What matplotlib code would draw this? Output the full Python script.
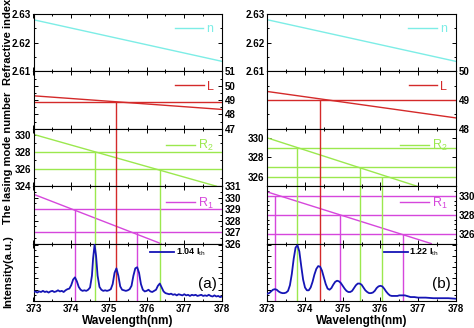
import numpy as np
import matplotlib
matplotlib.use('Agg')
import matplotlib.pyplot as plt
from matplotlib.ticker import MultipleLocator, NullFormatter, FixedLocator

plt.rcParams['font.family'] = ['Liberation Sans', 'DejaVu Sans']
plt.rcParams['mathtext.fontset'] = 'custom'
plt.rcParams['mathtext.rm'] = 'Liberation Sans'
plt.rcParams['mathtext.it'] = 'Liberation Sans:italic'
plt.rcParams['mathtext.bf'] = 'Liberation Sans:bold'

# ---------------- data ----------------
wl_ends = [373.0, 378.0]
xticks = [373, 374, 375, 376, 377, 378]

# refractive index n
n_a = [2.628, 2.6135]
n_b = [2.628, 2.6135]

# panel (a)
L_wl_a = [373.0, 378.0]
L_a = [49.3, 48.35]
L_mode_a = [48.88]
L_peak_a = [375.2]

R2_wl_a = [373.0, 377.85]
R2_a = [330.05, 324.0]
R2_modes_a = [328, 326]
R2_peaks_a = [374.64, 376.35]

R1_wl_a = [373.0, 376.38]
R1_a = [330.3, 326.0]
R1_modes_a = [329, 327]
R1_peaks_a = [374.1, 375.75]

spec_wl_a = [373.00, 373.05, 373.10, 373.15, 373.20, 373.25, 373.30, 373.35, 373.40, 373.45,
             373.50, 373.55, 373.60, 373.65, 373.70, 373.75, 373.80, 373.85, 373.90, 373.95,
             374.00, 374.05, 374.10, 374.15, 374.20, 374.25, 374.30, 374.35, 374.40, 374.45,
             374.50, 374.55, 374.58, 374.62, 374.66, 374.70, 374.75, 374.80, 374.85, 374.90,
             374.95, 375.00, 375.05, 375.10, 375.15, 375.20, 375.25, 375.30, 375.35, 375.40,
             375.45, 375.50, 375.55, 375.60, 375.65, 375.70, 375.75, 375.80, 375.85, 375.90,
             375.95, 376.00, 376.05, 376.10, 376.15, 376.20, 376.25, 376.30, 376.35, 376.40,
             376.45, 376.50, 376.55, 376.60, 376.65, 376.70, 376.75, 376.80, 376.85, 376.90,
             376.95, 377.00, 377.05, 377.10, 377.15, 377.20, 377.25, 377.30, 377.35, 377.40,
             377.45, 377.50, 377.55, 377.60, 377.65, 377.70, 377.75, 377.80, 377.85, 377.90,
             377.95, 378.00]
spec_a = [0.16, 0.17, 0.15, 0.17, 0.16, 0.18, 0.16, 0.17, 0.15, 0.17,
          0.18, 0.16, 0.17, 0.19, 0.17, 0.18, 0.16, 0.19, 0.21, 0.22,
          0.28, 0.38, 0.42, 0.35, 0.25, 0.20, 0.18, 0.19, 0.18, 0.20,
          0.24, 0.45, 0.75, 1.00, 0.80, 0.45, 0.25, 0.20, 0.18, 0.19,
          0.18, 0.19, 0.21, 0.30, 0.50, 0.58, 0.45, 0.26, 0.20, 0.19,
          0.18, 0.19, 0.21, 0.27, 0.45, 0.58, 0.60, 0.50, 0.30, 0.20,
          0.17, 0.18, 0.20, 0.17, 0.16, 0.18, 0.20, 0.27, 0.31, 0.24,
          0.17, 0.14, 0.13, 0.12, 0.13, 0.11, 0.12, 0.10, 0.12, 0.11,
          0.10, 0.12, 0.10, 0.11, 0.09, 0.11, 0.10, 0.11, 0.09, 0.10,
          0.11, 0.09, 0.10, 0.09, 0.11, 0.09, 0.08, 0.10, 0.08, 0.09,
          0.07, 0.08]

# panel (b)
L_wl_b = [373.0, 378.0]
L_b = [49.3, 48.38]
L_mode_b = [49]
L_peak_b = [374.4]

R2_wl_b = [373.0, 376.97]
R2_b = [330.05, 325.0]
R2_modes_b = [329, 327, 326]
R2_peaks_b = [373.8, 375.45, 376.05]

R1_wl_b = [373.0, 377.35]
R1_b = [330.4, 325.0]
R1_modes_b = [330, 328, 326]
R1_peaks_b = [373.2, 374.92, 376.6]

spec_wl_b = [373.00, 373.05, 373.10, 373.15, 373.20, 373.25, 373.30, 373.35, 373.40, 373.45,
             373.50, 373.55, 373.60, 373.65, 373.70, 373.75, 373.80, 373.85, 373.90, 373.95,
             374.00, 374.05, 374.10, 374.15, 374.20, 374.25, 374.30, 374.35, 374.40, 374.45,
             374.50, 374.55, 374.60, 374.65, 374.70, 374.75, 374.80, 374.85, 374.90, 374.95,
             375.00, 375.05, 375.10, 375.15, 375.20, 375.25, 375.30, 375.35, 375.40, 375.45,
             375.50, 375.55, 375.60, 375.65, 375.70, 375.75, 375.80, 375.85, 375.90, 375.95,
             376.00, 376.05, 376.10, 376.15, 376.20, 376.25, 376.30, 376.35, 376.40, 376.45,
             376.50, 376.55, 376.60, 376.65, 376.70, 376.75, 376.80, 376.90, 377.00, 377.20,
             377.40, 377.60, 377.80, 378.00]
spec_b = [0.13, 0.14, 0.17, 0.20, 0.21, 0.20, 0.17, 0.15, 0.14, 0.14,
          0.15, 0.18, 0.28, 0.48, 0.75, 0.95, 0.99, 0.88, 0.62, 0.38,
          0.24, 0.19, 0.19, 0.24, 0.34, 0.47, 0.57, 0.62, 0.61, 0.54,
          0.42, 0.30, 0.22, 0.20, 0.23, 0.29, 0.34, 0.36, 0.35, 0.32,
          0.27, 0.22, 0.18, 0.16, 0.16, 0.18, 0.23, 0.28, 0.31, 0.31,
          0.29, 0.24, 0.19, 0.16, 0.14, 0.14, 0.15, 0.18, 0.23, 0.26,
          0.27, 0.26, 0.22, 0.17, 0.13, 0.10, 0.09, 0.09, 0.09, 0.09,
          0.10, 0.10, 0.10, 0.10, 0.09, 0.08, 0.07, 0.07, 0.06, 0.06,
          0.05, 0.05, 0.05, 0.04]

# ---------------- style ----------------
C_N = '#7DEDE6'
C_L = '#D42A2A'
C_R2 = '#9BE84E'
C_R1 = '#D647DC'
C_SP = '#1515B5'
LW = 1.0

fig = plt.figure(figsize=(4.74, 3.28), dpi=100)

BOT = 1 - 301 / 328
TOP = 1 - 14 / 328
H = (TOP - BOT) / 5


def style_ax(ax, ymaj, ymin_, show_left, show_right, show_x):
    ax.set_xlim(wl_ends)
    ax.xaxis.set_major_locator(FixedLocator(xticks))
    ax.xaxis.set_minor_locator(MultipleLocator(0.5))
    ax.yaxis.set_major_locator(MultipleLocator(ymaj))
    ax.yaxis.set_minor_locator(MultipleLocator(ymin_))
    ax.tick_params(which='both', direction='in', top=True, bottom=True,
                   left=True, right=True, labelsize=7, width=0.7,
                   labelleft=show_left, labelright=show_right,
                   labelbottom=show_x, pad=2)
    ax.tick_params(which='major', length=3)
    ax.tick_params(which='minor', length=1.6)
    for s in ax.spines.values():
        s.set_linewidth(0.8)
    for lab in ax.get_yticklabels() + ax.get_xticklabels():
        lab.set_fontweight('bold')


def leg(ax, label, color, y=0.97):
    lg = ax.legend(loc='upper right', bbox_to_anchor=(0.995, y), frameon=False,
                   fontsize=9, handlelength=2.3, handletextpad=0.25,
                   borderaxespad=0.2, labelcolor=color)
    return lg


def draw_panel(left, width, n_vals, Ld, R2d, R1d, spec, tag, ilabel, cfg):
    axs = [fig.add_axes([left, BOT + (4 - i) * H, width, H]) for i in range(5)]
    axn, axL, axR2, axR1, axI = axs

    # n
    axn.plot(wl_ends, n_vals, color=C_N, lw=LW, label='n')
    axn.set_ylim(2.61, 2.63)
    style_ax(axn, 0.01, 0.005, True, False, False)
    axn.yaxis.set_major_formatter(matplotlib.ticker.FormatStrFormatter('%.2f'))
    for lab in axn.get_yticklabels():
        lab.set_fontweight('bold')
    leg(axn, 'n', C_N)

    # L
    wl, vals, modes, peaks = Ld
    axL.plot(wl, vals, color=C_L, lw=LW, label='L')
    for m in modes:
        axL.axhline(m, color=C_L, lw=LW)
    axL.set_ylim(*cfg['L_lim'])
    for p, m in zip(peaks, modes):
        axL.vlines(p, cfg['L_lim'][0], m, color=C_L, lw=LW)
    style_ax(axL, cfg['L_maj'], cfg['L_min'], False, True, False)
    leg(axL, 'L', C_L)

    # R2
    wl, vals, modes, peaks = R2d
    axR2.plot(wl, vals, color=C_R2, lw=LW, label='R$_2$')
    for m in modes:
        axR2.axhline(m, color=C_R2, lw=LW)
    axR2.set_ylim(*cfg['R2_lim'])
    for p, m in zip(peaks, modes):
        axR2.vlines(p, cfg['R2_lim'][0], m, color=C_R2, lw=LW)
    for p in Ld[3]:
        axR2.axvline(p, color=C_L, lw=LW)
    style_ax(axR2, 2, 1, True, False, False)
    leg(axR2, 'R2', C_R2)

    # R1
    wl, vals, modes, peaks = R1d
    axR1.plot(wl, vals, color=C_R1, lw=LW, label='R$_1$')
    for m in modes:
        axR1.axhline(m, color=C_R1, lw=LW)
    axR1.set_ylim(*cfg['R1_lim'])
    for p, m in zip(peaks, modes):
        axR1.vlines(p, cfg['R1_lim'][0], m, color=C_R1, lw=LW)
    for p in R2d[3]:
        axR1.axvline(p, color=C_R2, lw=LW)
    for p in Ld[3]:
        axR1.axvline(p, color=C_L, lw=LW)
    style_ax(axR1, cfg['R1_maj'], 0.5, False, True, False)
    leg(axR1, 'R1', C_R1)

    # Intensity
    for p in R1d[3]:
        axI.axvline(p, color=C_R1, lw=LW)
    for p in R2d[3]:
        axI.axvline(p, color=C_R2, lw=LW)
    for p in Ld[3]:
        axI.axvline(p, color=C_L, lw=LW)
    axI.plot(spec[0], spec[1], color=C_SP, lw=1.3, label=ilabel, zorder=5)
    axI.set_ylim(0, 1.02)
    style_ax(axI, 0.2, 0.1, False, False, True)
    axI.yaxis.set_major_formatter(NullFormatter())
    lg = axI.legend(loc='upper right', bbox_to_anchor=(0.94, 1.04), frameon=False,
                    fontsize=6.5, handlelength=2.6, handletextpad=0.2,
                    borderaxespad=0.2)
    for t in lg.get_texts():
        t.set_fontweight('bold')
    axI.text(0.975, 0.3, tag, transform=axI.transAxes, ha='right', va='center',
             fontsize=11)
    axI.set_xlabel('Wavelength(nm)', fontsize=8.5, fontweight='bold', labelpad=1)
    return axs


cfg_a = dict(L_lim=(47, 51), L_maj=1, L_min=0.5, R2_lim=(324, 330.7), R1_lim=(326, 331), R1_maj=1)
cfg_b = dict(L_lim=(48, 50), L_maj=1, L_min=0.5, R2_lim=(325, 331), R1_lim=(325, 331), R1_maj=2)

axs_a = draw_panel(33.5 / 474, 188.5 / 474, n_a,
                   (L_wl_a, L_a, L_mode_a, L_peak_a),
                   (R2_wl_a, R2_a, R2_modes_a, R2_peaks_a),
                   (R1_wl_a, R1_a, R1_modes_a, R1_peaks_a),
                   (spec_wl_a, spec_a), '(a)', '1.04 I$_{\\mathrm{th}}$', cfg_a)
axs_b = draw_panel(267.3 / 474, 188.5 / 474, n_b,
                   (L_wl_b, L_b, L_mode_b, L_peak_b),
                   (R2_wl_b, R2_b, R2_modes_b, R2_peaks_b),
                   (R1_wl_b, R1_b, R1_modes_b, R1_peaks_b),
                   (spec_wl_b, spec_b), '(b)', '1.22 I$_{\\mathrm{th}}$', cfg_b)

# (b) left labels of R2 only at 326, 328, 330
axs_b[2].yaxis.set_major_locator(FixedLocator([326, 328, 330]))
for lab in axs_b[2].get_yticklabels():
    lab.set_fontweight('bold')

# y labels on panel (a)
fig.text(8 / 474, 1 - 42 / 328, 'Refractive index', rotation=90, ha='center', va='center',
         fontsize=8, fontweight='bold')
fig.text(8 / 474, 1 - 158 / 328, 'The lasing mode number', rotation=90, ha='center', va='center',
         fontsize=8, fontweight='bold')
fig.text(8 / 474, 1 - 272 / 328, 'Intensity(a.u.)', rotation=90, ha='center', va='center',
         fontsize=8, fontweight='bold')

fig.savefig('out.png', dpi=100)
